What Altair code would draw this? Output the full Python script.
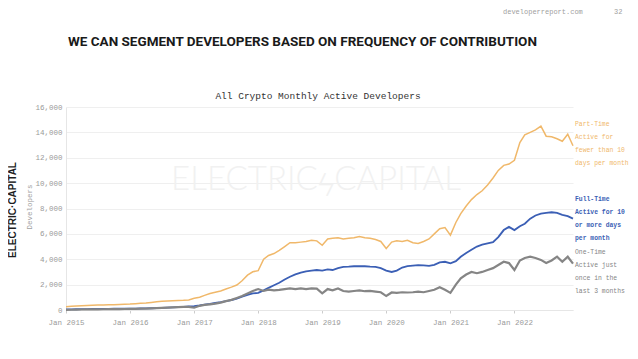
import altair as alt
import pandas as pd

# ---- data (monthly) ----
months = pd.date_range("2015-01-01", "2022-12-01", freq="MS").strftime("%Y-%m-%d").tolist()

part_time = [
    260, 290, 320, 340, 360, 380, 390, 400, 410, 420, 440, 460,
    470, 500, 530, 560, 600, 650, 680, 700, 720, 740, 760, 790,
    920, 1000, 1150, 1300, 1400, 1500, 1650, 1800, 1970, 2300, 2750, 3010,
    3100, 4000, 4300, 4450, 4700, 5000, 5300, 5300, 5350, 5400, 5500, 5450,
    5100, 5600, 5650, 5700, 5600, 5650, 5700, 5800, 5700, 5650, 5550, 5400,
    4850, 5350, 5450, 5400, 5500, 5300, 5250, 5400, 5600, 6000, 6400, 6500,
    5900, 6900, 7600, 8200, 8700, 9100, 9400, 9850, 10400, 11000, 11400, 11500,
    11800, 13200, 13800, 14000, 14200, 14500, 13700, 13650, 13500, 13300, 13850, 12950,
]
full_time = [
    50, 55, 60, 65, 70, 75, 80, 85, 90, 95, 100, 100,
    100, 110, 120, 130, 140, 150, 170, 190, 210, 230, 250, 280,
    310, 360, 420, 480, 550, 620, 700, 780, 900, 1050, 1200, 1310,
    1350, 1550, 1750, 1950, 2150, 2400, 2620, 2800, 2950, 3050, 3100, 3150,
    3100, 3200, 3150, 3300, 3400, 3420, 3450, 3460, 3450, 3420, 3400, 3300,
    3100, 3000, 3100, 3350, 3460, 3500, 3540, 3520, 3480, 3550, 3750, 3800,
    3680, 3850, 4200, 4500, 4750, 5000, 5150, 5250, 5350, 5750, 6300, 6550,
    6300, 6600, 6800, 7200, 7450, 7600, 7650, 7700, 7650, 7500, 7400, 7200,
]
one_time = [
    10, 20, 30, 40, 45, 50, 55, 60, 65, 70, 75, 80,
    85, 95, 105, 115, 125, 140, 160, 180, 200, 220, 240, 250,
    180, 330, 400, 450, 500, 580, 700, 800, 950, 1100, 1300, 1500,
    1650, 1500, 1600, 1550, 1580, 1650, 1700, 1650, 1700, 1650, 1700, 1680,
    1320, 1650, 1550, 1700, 1500, 1450, 1500, 1550, 1480, 1500, 1450, 1400,
    1100, 1380, 1350, 1400, 1380, 1400, 1450, 1400, 1500, 1600, 1800, 1600,
    1350, 2000, 2500, 2800, 3000, 2900, 3000, 3150, 3300, 3550, 3800, 3700,
    3150, 3900, 4100, 4200, 4100, 3950, 3700, 3900, 4200, 3800, 4200, 3650,
]
series_names = ["Part-Time", "Full-Time", "One-Time"]
series_colors = ["#f0b86a", "#3b5fb5", "#858585"]
y_ticks = [0, 2000, 4000, 6000, 8000, 10000, 12000, 14000, 16000]
x_years = list(range(2015, 2023))

rows = []
for name, vals in zip(series_names, [part_time, full_time, one_time]):
    for m, v in zip(months, vals):
        rows.append({"month": m, "series": name, "value": v})
df = pd.DataFrame(rows)

W, H = 507, 203
MONO = "Liberation Mono"

base = alt.Chart(df)

lines = base.mark_line().encode(
    x=alt.X(
        "month:T",
        scale=alt.Scale(domain=[alt.DateTime(year=2015, month=1, date=1),
                                alt.DateTime(year=2022, month=12, date=1)]),
        axis=alt.Axis(
            title=None,
            values=[alt.DateTime(year=y, month=1, date=1) for y in x_years],
            format="%b %Y",
            grid=False,
            labelFont=MONO, labelFontSize=7.5, labelColor="#9a9a9a",
            labelPadding=5, tickSize=3, tickColor="#cccccc",
            domainColor="#e6e6e6", labelFlush=False,
        ),
    ),
    y=alt.Y(
        "value:Q",
        scale=alt.Scale(domain=[0, 16000], nice=False),
        axis=alt.Axis(
            title=None, values=y_ticks, labelExpr="format(datum.value, ',.0f')",
            labelFont=MONO, labelFontSize=7.5, labelColor="#9a9a9a",
            labelPadding=4, ticks=False, gridColor="#efefef",
            domainColor="#e6e6e6",
        ),
    ),
    color=alt.Color("series:N", scale=alt.Scale(domain=series_names, range=series_colors), legend=None),
    strokeWidth=alt.StrokeWidth("series:N", scale=alt.Scale(domain=series_names, range=[1.5, 2.2, 2.0]), legend=None),
)

def txt(text, x, y, **kw):
    return alt.Chart(pd.DataFrame({"t": [text]})).mark_text(**kw).encode(
        text="t:N", x=alt.value(x), y=alt.value(y)
    )

watermark = txt("ELECTRICϟCAPITAL", 250, 73, font="Lato", fontSize=33, fontWeight=300,
                color="#f1f1f1", align="center", baseline="middle")

big_title = txt("WE CAN SEGMENT DEVELOPERS BASED ON FREQUENCY OF CONTRIBUTION", 2, -65,
                font="Roboto", fontSize=13.5, fontWeight="bold",
                color="#1a1a1a", align="left", baseline="middle")
site = txt("developerreport.com", 437, -95, font=MONO, fontSize=7, color="#a0a0a0",
           align="left", baseline="middle")
page = txt("32", 548, -95, font=MONO, fontSize=7, color="#a0a0a0", align="left", baseline="middle")
chart_title = txt("All Crypto Monthly Active Developers", 252, -11, font=MONO, fontSize=9.5,
                  color="#333333", align="center", baseline="middle")
ytitle = txt("Developers", -36, 100, font=MONO, fontSize=7.5, color="#a0a0a0", angle=270,
             align="center", baseline="middle")
brand = txt("ELECTRIC·CAPITAL", -53, 103, font="Liberation Sans", fontSize=10, fontWeight="bold",
            color="#1f1f1f", angle=270, align="center", baseline="middle")

LEGX = 509
leg_pt = txt("Part-Time\nActive for\nfewer than 10\ndays per month", LEGX, 17, font=MONO, fontSize=6.4,
             color=series_colors[0], align="left", baseline="middle", lineBreak="\n", lineHeight=13)
leg_ft = txt("Full-Time\nActive for 10\nor more days\nper month", LEGX, 92, font=MONO, fontSize=6.4,
             fontWeight="bold", color=series_colors[1], align="left", baseline="middle",
             lineBreak="\n", lineHeight=13)
leg_ot = txt("One-Time\nActive just\nonce in the\nlast 3 months", LEGX, 145, font=MONO, fontSize=6.4,
             color=series_colors[2], align="left", baseline="middle", lineBreak="\n", lineHeight=13)

chart = alt.layer(
    watermark, lines, big_title, site, page, chart_title, ytitle, brand, leg_pt, leg_ft, leg_ot
).properties(
    width=W, height=H,
    autosize=alt.AutoSizeParams(type="none"),
    padding={"left": 58, "top": 99, "right": 56, "bottom": 40},
    background="white",
).configure_view(stroke=None)

chart.save("out.html", embed_options={"renderer": "svg", "actions": False})
